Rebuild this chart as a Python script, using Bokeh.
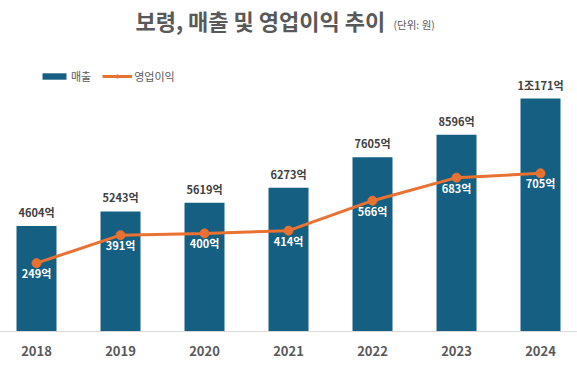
from bokeh.plotting import figure
from bokeh.models import Range1d, LinearAxis, FixedTicker, Legend, LegendItem, Label
from bokeh.core.properties import value
from bokeh.embed import file_html
from bokeh.resources import INLINE

years = [2018, 2019, 2020, 2021, 2022, 2023, 2024]
sales = [4604, 5243, 5619, 6273, 7605, 8596, 10171]
op_profit = [249, 391, 400, 414, 566, 683, 705]
title_text = "보령, 매출 및 영업이익 추이"
unit_text = "(단위: 원)"
series_names = ["매출", "영업이익"]


def fmt(v):
    if v >= 10000:
        return f"{v // 10000}조{v % 10000}억"
    return f"{v}억"


sales_labels = [fmt(v) for v in sales]
op_labels = [fmt(v) for v in op_profit]

BAR_COLOR = "#156082"
LINE_COLOR = "#E97132"
TEXT_GRAY = "#595959"
FONT = "Noto Sans CJK KR"

W, H = 577, 375
BOTTOM = 44
FH = H - BOTTOM
PX_PER_CAT = 84.0
x0 = years[0] - 36 / PX_PER_CAT
x1 = x0 + W / PX_PER_CAT
BAR_SCALE = 0.0229
y1 = FH / BAR_SCALE
LINE_SCALE = 0.197
ly0 = -19.3 / LINE_SCALE
ly1 = ly0 + FH / LINE_SCALE


def xpx(px):
    return x0 + px / PX_PER_CAT


def ypx(px_from_top):
    return y1 - px_from_top / BAR_SCALE


p = figure(width=W, height=H, x_range=Range1d(x0, x1), y_range=Range1d(0, y1),
           output_backend="svg", toolbar_location=None,
           x_axis_location=None, y_axis_location=None,
           min_border=0, min_border_bottom=BOTTOM)
p.extra_y_ranges = {"op": Range1d(ly0, ly1)}
p.outline_line_color = None
p.xgrid.visible = False
p.ygrid.visible = False
p.background_fill_color = "white"
p.border_fill_color = "white"

xaxis = LinearAxis(ticker=FixedTicker(ticks=years))
xaxis.major_tick_line_color = None
xaxis.minor_tick_line_color = None
xaxis.axis_line_color = "#d9d9d9"
xaxis.axis_line_width = 1
xaxis.major_label_text_font = FONT
xaxis.major_label_text_font_style = "bold"
xaxis.major_label_text_font_size = "13px"
xaxis.major_label_text_color = TEXT_GRAY
xaxis.major_label_standoff = 8
p.add_layout(xaxis, "below")

bars = p.vbar(x=years, top=sales, width=40 / PX_PER_CAT, fill_color=BAR_COLOR,
              line_color=None)
line = p.line(x=years, y=op_profit, y_range_name="op", line_color=LINE_COLOR,
              line_width=3)
dots = p.scatter(x=years, y=op_profit, y_range_name="op", size=9,
                 fill_color=LINE_COLOR, line_color=LINE_COLOR)

p.text(x=years, y=sales, text=sales_labels, text_align="center",
       text_baseline="middle", y_offset=-14, text_font=value(FONT),
       text_font_style="bold", text_font_size="11px", text_color="#404040")
p.text(x=years, y=op_profit, text=op_labels, y_range_name="op",
       text_align="center", text_baseline="middle", y_offset=10,
       text_font=value(FONT), text_font_style="bold", text_font_size="11px",
       text_color="white")

p.add_layout(Label(x=xpx(135), y=ypx(19), text=title_text, text_align="left",
                   text_baseline="middle", text_font=FONT, text_font_style="bold",
                   text_font_size="22px", text_color=TEXT_GRAY))
p.add_layout(Label(x=xpx(393), y=ypx(24), text=unit_text, text_align="left",
                   text_baseline="middle", text_font=FONT,
                   text_font_size="10.5px", text_color=TEXT_GRAY))

legend = Legend(items=[LegendItem(label=series_names[0], renderers=[bars]),
                       LegendItem(label=series_names[1], renderers=[line, dots])],
                orientation="horizontal", location=(39, FH - 84),
                glyph_width=30, glyph_height=8, label_height=14,
                label_standoff=2, spacing=11, padding=0, margin=0,
                border_line_alpha=0, background_fill_alpha=0,
                label_text_font=FONT, label_text_font_size="11px",
                label_text_color=TEXT_GRAY)
p.add_layout(legend)

open("out.html", "w").write(file_html(p, INLINE))
